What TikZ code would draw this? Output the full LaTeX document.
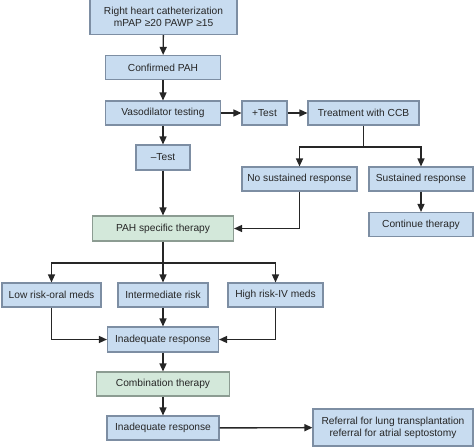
\documentclass[tikz,border=0pt]{standalone}
\usepackage{fontspec}
\setmainfont{Liberation Sans}
\usetikzlibrary{arrows.meta}
\definecolor{bfill}{HTML}{C8DCF0}
\definecolor{bdraw}{HTML}{7D8EA3}
\definecolor{gfill}{HTML}{D3E8DA}
\definecolor{gdraw}{HTML}{8C9C92}
\definecolor{txt}{HTML}{262626}
\begin{document}
\begin{tikzpicture}[x=1pt,y=-1pt,
  bbox/.style={draw=bdraw,fill=bfill,line width=1.1pt,inner sep=1pt,align=center,text=txt,font=\fontsize{10.2}{12}\selectfont,minimum height=24pt},
  gbox/.style={bbox,draw=gdraw,fill=gfill},
  conn/.style={line width=1.4pt,draw=black!85,-{Triangle[length=8pt,width=7pt]}},
  line/.style={line width=1.4pt,draw=black!85}]
\useasboundingbox (0,0) rectangle (474,447);
\node[bbox,minimum width=147pt,minimum height=35pt] (rhc) at (163.5,17) {Right heart catheterization\\mPAP ≥20 PAWP ≥15};
\node[bbox,minimum width=115pt] (conf) at (163,67.5) {Confirmed PAH};
\node[bbox,minimum width=115pt] (vaso) at (163,113) {Vasodilator testing};
\node[bbox,minimum width=45pt] (ptest) at (264.5,113) {+Test};
\node[bbox,minimum width=111pt] (ccb) at (363.5,113) {Treatment with CCB};
\node[bbox,minimum width=54pt,minimum height=25pt] (ntest) at (163,157.5) {\textendash Test};
\node[bbox,minimum width=115pt] (nosus) at (299.5,179) {No sustained response};
\node[bbox,minimum width=104pt] (sus) at (421,179) {Sustained response};
\node[bbox,minimum width=104pt] (cont) at (421,224.5) {Continue therapy};
\node[gbox,minimum width=141pt,minimum height=25pt] (pah) at (163,228.5) {PAH specific therapy};
\node[bbox,minimum width=99pt] (low) at (51.5,295) {Low risk-oral meds};
\node[bbox,minimum width=90pt] (inter) at (163,295) {Intermediate risk};
\node[bbox,minimum width=95pt] (high) at (275.5,295) {High risk-IV meds};
\node[bbox,minimum width=111pt,minimum height=25pt] (inad1) at (163,339.5) {Inadequate response};
\node[gbox,minimum width=133pt] (comb) at (163,384) {Combination therapy};
\node[bbox,minimum width=112pt] (inad2) at (163,428) {Inadequate response};
\node[bbox,minimum width=160pt,minimum height=37pt] (ref) at (393,427.5) {Referral for lung transplantation\\referral for atrial septostomy};
\coordinate (split1) at (363.5,147);
\coordinate (split2) at (163,263);
\draw[conn] (rhc) -- (conf);
\draw[conn] (conf) -- (vaso);
\draw[conn] (vaso) -- (ptest);
\draw[conn] (ptest) -- (ccb);
\draw[conn] (vaso) -- (ntest);
\draw[conn] (ntest) -- (pah);
\draw[line] (ccb.south) -- (split1);
\draw[conn] (split1) -| (nosus.north);
\draw[conn] (split1) -| (sus.north);
\draw[conn] (nosus.south) |- (pah.east);
\draw[conn] (sus) -- (cont);
\draw[line] (pah.south) -- (split2);
\draw[conn] (split2) -| (low.north);
\draw[conn] (split2) -- (inter.north);
\draw[conn] (split2) -| (high.north);
\draw[conn] (low.south) |- (inad1.west);
\draw[conn] (high.south) |- (inad1.east);
\draw[conn] (inter) -- (inad1);
\draw[conn] (inad1) -- (comb);
\draw[conn] (comb) -- (inad2);
\draw[conn] (inad2) -- (ref);
\end{tikzpicture}
\end{document}
